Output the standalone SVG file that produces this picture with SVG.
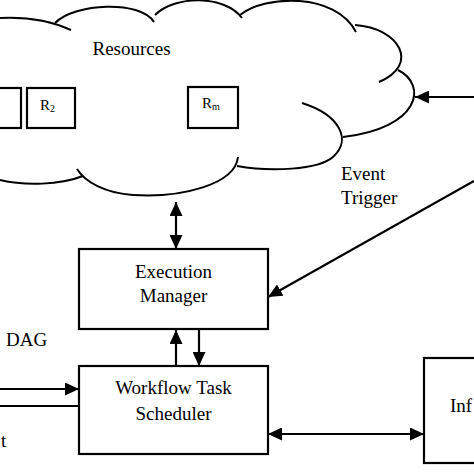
<svg xmlns="http://www.w3.org/2000/svg" width="474" height="474" viewBox="0 0 474 474">
<defs>
<style>
.ln{fill:none;stroke:#000;stroke-width:2.2}
.bx{fill:#fff;stroke:#000;stroke-width:2.2}
.cl{fill:none;stroke:#000;stroke-width:2}
.t{font-family:"Liberation Serif","Times New Roman",serif;font-size:19px;fill:#000}
.s{font-family:"Liberation Serif","Times New Roman",serif;font-size:15px;fill:#000}
</style>
<marker id="ah" viewBox="0 0 14 13" refX="14" refY="6.5" markerWidth="14" markerHeight="13" markerUnits="userSpaceOnUse" orient="auto-start-reverse">
<path d="M0,0 L14,6.5 L0,13 Z" fill="#000"/>
</marker>
</defs>
<rect width="474" height="474" fill="#fff"/>
<g id="cloud">
<path class="cl" d="M0,18 Q40,16 71,30"/>
<path class="cl" d="M55,23 C75,3 140,0 154,22"/>
<path class="cl" d="M155,15 C175,-5 225,-5 242,18"/>
<path class="cl" d="M240,15 C265,-5 335,-8 356,32"/>
<path class="cl" d="M355,25 C400,28 420,65 379,82"/>
<path class="cl" d="M398,70 C428,85 420,128 343,137"/>
<path class="cl" d="M302,103 C340,115 352,140 333,157 C318,170 270,172 237,166"/>
<path class="cl" d="M238,157 C235,185 180,198 133,195 C105,193 85,182 77,169"/>
<path class="cl" d="M83,176 C60,185 25,186 0,180"/>
<text class="t" x="131.5" y="55" text-anchor="middle">Resources</text>
</g>
<g id="r1">
<rect class="bx" x="-30" y="88" width="51" height="40"/>
</g>
<g id="r2">
<rect class="bx" x="27" y="88" width="48" height="40"/>
<text class="s" x="40" y="110">R<tspan font-size="10" dy="2">2</tspan></text>
</g>
<g id="rm">
<rect class="bx" x="188" y="87" width="50" height="41"/>
<text class="s" x="202" y="108">R<tspan font-size="10" dy="2">m</tspan></text>
</g>
<g id="exec">
<rect class="bx" x="79" y="249" width="189" height="80"/>
<text class="t" x="173.5" y="278" text-anchor="middle">Execution</text>
<text class="t" x="173.5" y="302" text-anchor="middle">Manager</text>
</g>
<g id="wts">
<rect class="bx" x="79" y="366" width="189" height="88"/>
<text class="t" x="173.5" y="394" text-anchor="middle">Workflow Task</text>
<text class="t" x="173.5" y="420" text-anchor="middle">Scheduler</text>
</g>
<g id="info">
<rect class="bx" x="424" y="358" width="80" height="105"/>
<text class="t" x="450" y="412">Inf</text>
</g>
<g id="labels">
<text class="t" x="6" y="346">DAG</text>
<text class="t" x="1" y="447">t</text>
<text class="t" x="341" y="180">Event</text>
<text class="t" x="341" y="204">Trigger</text>
</g>
<g id="connectors">
<line class="ln" x1="176" y1="202" x2="176" y2="249" marker-start="url(#ah)" marker-end="url(#ah)"/>
<line class="ln" x1="176" y1="366" x2="176" y2="330" marker-end="url(#ah)"/>
<line class="ln" x1="199" y1="330" x2="199" y2="366" marker-end="url(#ah)"/>
<line class="ln" x1="0" y1="389" x2="79" y2="389" marker-end="url(#ah)"/>
<line class="ln" x1="0" y1="406" x2="78" y2="406"/>
<line class="ln" x1="268" y1="434" x2="424" y2="434" marker-start="url(#ah)" marker-end="url(#ah)"/>
<line class="ln" x1="474" y1="181" x2="268" y2="297" marker-end="url(#ah)"/>
<line class="ln" x1="474" y1="97" x2="415" y2="97" marker-end="url(#ah)"/>
</g>
</svg>
